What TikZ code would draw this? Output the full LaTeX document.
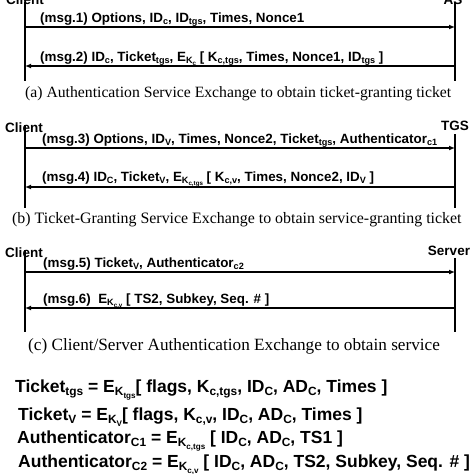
\documentclass[tikz,border=0pt]{standalone}
\usepackage{fontspec}
\setmainfont{Liberation Serif}
\setsansfont{Liberation Sans}
\usetikzlibrary{arrows.meta}
\newcommand{\sbs}[1]{\raisebox{-0.42ex}{\scalebox{0.68}{#1}}}
\tikzset{
  lifeline/.style={line width=1.8pt},
  msgarrow/.style={line width=1.8pt,-{Latex[length=6pt,width=5pt]}},
  msgtext/.style={font=\sffamily\bfseries\fontsize{13.4}{15}\selectfont,anchor=base west,inner sep=0pt},
  party/.style={font=\sffamily\bfseries\fontsize{13.5}{15}\selectfont,anchor=base,inner sep=0pt},
  captext/.style={font=\rmfamily\fontsize{15.7}{18}\selectfont,anchor=base west,inner sep=0pt},
  formula/.style={font=\sffamily\bfseries\fontsize{17.5}{20}\selectfont,anchor=base west,inner sep=0pt}
}
\begin{document}
\begin{tikzpicture}[x=1pt,y=-1pt]
\useasboundingbox (0,0) rectangle (474,474);
% ---------- (a) ----------
\node[party] (clA) at (25,4) {Client};
\node[party] (as) at (453,4) {AS};
\coordinate (aLt) at (25,2); \coordinate (aLb) at (25,81);
\coordinate (aRt) at (455,2); \coordinate (aRb) at (455,81);
\draw[lifeline] (aLt) -- (aLb);
\draw[lifeline] (aRt) -- (aRb);
\coordinate (m1s) at (25,27); \coordinate (m1e) at (455,27);
\coordinate (m2s) at (455,66); \coordinate (m2e) at (25,66);
\draw[msgarrow] (m1s) -- (m1e);
\draw[msgarrow] (m2s) -- (m2e);
\node[msgtext] (t1) at (40,22) {(msg.1) Options, ID\sbs{c}, ID\sbs{tgs}, Times, Nonce1};
\node[msgtext] (t2) at (40,61) {(msg.2) ID\sbs{c}, Ticket\sbs{tgs}, E\sbs{K\sbs{c}} [ K\sbs{c,tgs}, Times, Nonce1, ID\sbs{tgs} ]};
\node[captext] (capA) at (25,97) {(a) Authentication Service Exchange to obtain ticket-granting ticket};
% ---------- (b) ----------
\node[party] (clB) at (24,132) {Client};
\node[party] (tgs) at (455,130) {TGS};
\coordinate (bLt) at (25,125); \coordinate (bLb) at (25,208);
\coordinate (bRt) at (455,134); \coordinate (bRb) at (455,208);
\draw[lifeline] (bLt) -- (bLb);
\draw[lifeline] (bRt) -- (bRb);
\coordinate (m3s) at (25,148); \coordinate (m3e) at (455,148);
\coordinate (m4s) at (455,187); \coordinate (m4e) at (25,187);
\draw[msgarrow] (m3s) -- (m3e);
\draw[msgarrow] (m4s) -- (m4e);
\node[msgtext] (t3) at (42,143) {(msg.3) Options, ID\sbs{V}, Times, Nonce2, Ticket\sbs{tgs}, Authenticator\sbs{c1}};
\node[msgtext] (t4) at (42,181) {(msg.4) ID\sbs{C}, Ticket\sbs{V}, E\sbs{K\sbs{c,tgs}} [ K\sbs{c,v}, Times, Nonce2, ID\sbs{V} ]};
\node[captext,font=\rmfamily\fontsize{15.9}{18}\selectfont] (capB) at (12,223) {(b) Ticket-Granting Service Exchange to obtain service-granting ticket};
% ---------- (c) ----------
\node[party] (clC) at (24,257) {Client};
\node[party] (srv) at (449,255) {Server};
\coordinate (cLt) at (25,250); \coordinate (cLb) at (25,332);
\coordinate (cRt) at (455,258); \coordinate (cRb) at (455,332);
\draw[lifeline] (cLt) -- (cLb);
\draw[lifeline] (cRt) -- (cRb);
\coordinate (m5s) at (25,272); \coordinate (m5e) at (455,272);
\coordinate (m6s) at (455,308); \coordinate (m6e) at (25,308);
\draw[msgarrow] (m5s) -- (m5e);
\draw[msgarrow] (m6s) -- (m6e);
\node[msgtext] (t5) at (43,267) {(msg.5) Ticket\sbs{V}, Authenticator\sbs{c2}};
\node[msgtext] (t6) at (43,303) {(msg.6) \ E\sbs{K\sbs{c,v}} [ TS2, Subkey, Seq. \# ]};
\node[captext,font=\rmfamily\fontsize{17.2}{19}\selectfont] (capC) at (28,350) {(c) Client/Server Authentication Exchange to obtain service};
% ---------- definitions ----------
\node[formula] (f1) at (15,392) {Ticket\sbs{tgs} = E\sbs{K\sbs{tgs}}[ flags, K\sbs{c,tgs}, ID\sbs{C}, AD\sbs{C}, Times ]};
\node[formula] (f2) at (18,420) {Ticket\sbs{V} = E\sbs{K\sbs{V}}[ flags, K\sbs{c,v}, ID\sbs{C}, AD\sbs{C}, Times ]};
\node[formula] (f3) at (17,443) {Authenticator\sbs{C1} = E\sbs{K\sbs{c,tgs}} [ ID\sbs{C}, AD\sbs{C}, TS1 ]};
\node[formula] (f4) at (18,467) {Authenticator\sbs{C2} = E\sbs{K\sbs{c,v}} [ ID\sbs{C}, AD\sbs{C}, TS2, Subkey, Seq. \# ]};
\end{tikzpicture}
\end{document}
